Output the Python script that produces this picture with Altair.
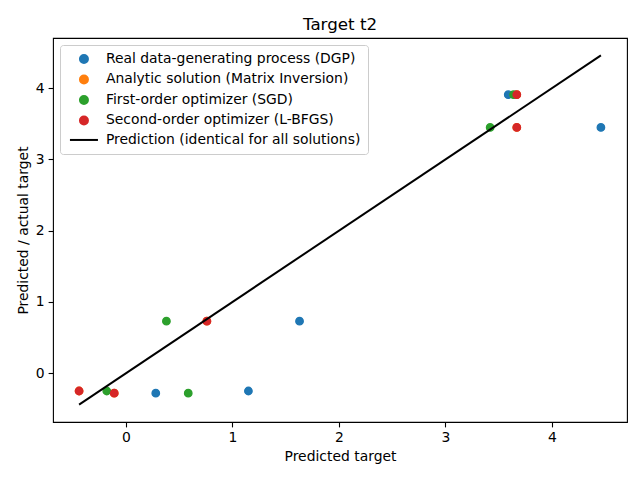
import altair as alt
import pandas as pd

# ---- data ----
series_names = [
    "Real data-generating process (DGP)",
    "Analytic solution (Matrix Inversion)",
    "First-order optimizer (SGD)",
    "Second-order optimizer (L-BFGS)",
]
line_name = "Prediction (identical for all solutions)"

actual_target = [-0.25, -0.28, 0.73, 3.91, 3.45]
pred_dgp = [1.15, 0.28, 1.63, 3.59, 4.46]
pred_matrix = [-0.44, -0.11, 0.76, 3.67, 3.67]
pred_sgd = [-0.18, 0.585, 0.38, 3.64, 3.42]
pred_lbfgs = [-0.44, -0.11, 0.76, 3.67, 3.67]

line_x = [-0.44, 4.46]
line_y = [-0.44, 4.46]

x_ticks = [0, 1, 2, 3, 4]
y_ticks = [0, 1, 2, 3, 4]

colors = ["#1f77b4", "#ff7f0e", "#2ca02c", "#d62728", "black"]

# ---- tables ----
rows = []
for name, preds in zip(series_names, [pred_dgp, pred_matrix, pred_sgd, pred_lbfgs]):
    for p, a in zip(preds, actual_target):
        rows.append({"series": name, "pred": p, "actual": a})
points_df = pd.DataFrame(rows)
line_df = pd.DataFrame({"x": line_x, "y": line_y})

all_names = series_names + [line_name]
shapes = ["circle"] * 4 + ["M-3.5,0L3.5,0"]

xscale = alt.Scale(domain=[-0.685, 4.705], nice=False, zero=False)
yscale = alt.Scale(domain=[-0.685, 4.705], nice=False, zero=False)

x_axis = alt.Axis(title="Predicted target", values=x_ticks, format="d")
y_axis = alt.Axis(title="Predicted / actual target", values=y_ticks, format="d")

points = alt.Chart(points_df).mark_point(
    filled=True, opacity=1, size=56, strokeWidth=1.3
).encode(
    x=alt.X("pred:Q", scale=xscale, axis=x_axis),
    y=alt.Y("actual:Q", scale=yscale, axis=y_axis),
    fill=alt.Fill("series:N", scale=alt.Scale(domain=all_names, range=colors),
                  legend=alt.Legend(title=None)),
    stroke=alt.Stroke("series:N", scale=alt.Scale(domain=all_names, range=colors),
                      legend=alt.Legend(title=None)),
    shape=alt.Shape("series:N", scale=alt.Scale(domain=all_names, range=shapes),
                    legend=alt.Legend(title=None)),
)

line = alt.Chart(line_df).mark_line(color="black", strokeWidth=2).encode(
    x=alt.X("x:Q", scale=xscale, axis=x_axis),
    y=alt.Y("y:Q", scale=yscale, axis=y_axis),
)

chart = alt.layer(points, line).properties(
    width=574,
    height=384,
    autosize=alt.AutoSizeParams(type="none"),
    padding={"left": 45, "top": 30, "right": 5, "bottom": 45},
    title=alt.Title("Target t2", font="DejaVu Sans", fontSize=16.7,
                    fontWeight="normal", color="black", offset=4, anchor="middle"),
).configure_view(
    stroke="black", strokeWidth=1.1
).configure_axis(
    domain=False, grid=False,
    labelFont="DejaVu Sans", labelFontSize=13.9, labelColor="black",
    tickColor="black", tickSize=4.9, tickWidth=1.1, labelPadding=4,
    titleFont="DejaVu Sans", titleFontSize=13.9, titleFontWeight="normal",
    titleColor="black", titlePadding=5,
).configure_legend(
    orient="top-left", offset=7, padding=7, rowPadding=3.5,
    symbolOffset=10, labelOffset=15, symbolSize=64, symbolStrokeWidth=2,
    labelFont="DejaVu Sans", labelFontSize=13.9, labelColor="black", labelLimit=400,
    strokeColor="#cccccc", fillColor="rgba(255,255,255,0.8)", cornerRadius=3,
)

chart.save("out.html", embed_options={"renderer": "svg", "actions": False})
